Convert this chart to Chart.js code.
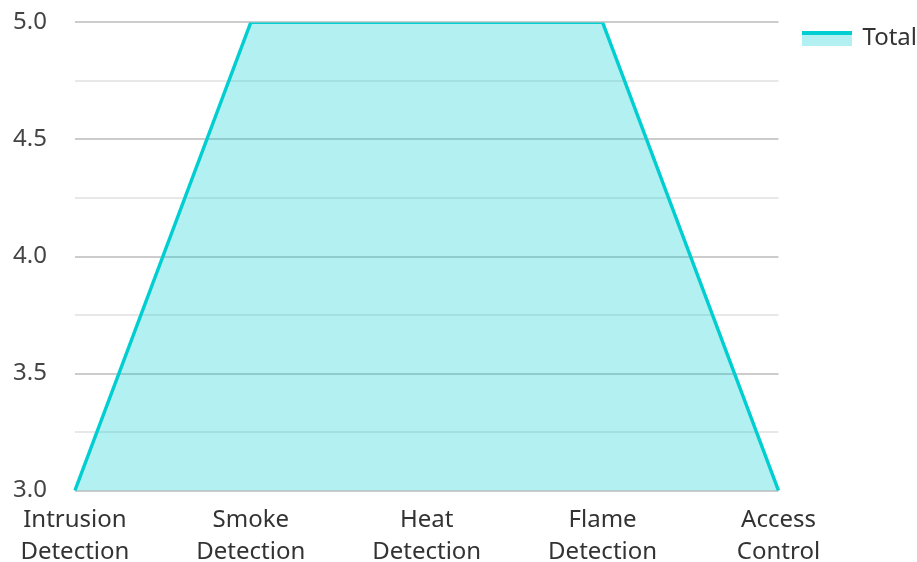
<!DOCTYPE html>
<html>
<head>
<meta charset="utf-8">
<script src="https://cdn.jsdelivr.net/npm/chart.js@4"></script>
<style>
  html, body { margin: 0; padding: 0; background: #fff; }
  #wrap { width: 917px; height: 562px; }
</style>
</head>
<body>
<div id="wrap"><canvas id="myChart" width="917" height="562"></canvas></div>
<script>
// chart data
const categories = [
    ['Intrusion', 'Detection'],
    ['Smoke', 'Detection'],
    ['Heat', 'Detection'],
    ['Flame', 'Detection'],
    ['Access', 'Control']
];
const totalValues = [3, 5, 5, 5, 3];
const seriesName = 'Total';

const lineColor = '#00CED1';
const fillColor = 'rgba(0, 206, 209, 0.3)';

Chart.defaults.font.family = "'Noto Sans', 'Open Sans', sans-serif";
Chart.defaults.font.size = 24;
Chart.defaults.color = '#333';

// legend swatch: thick line on top, fill below
function makeSwatch() {
    const c = document.createElement('canvas');
    c.width = 50;
    c.height = 16;
    const g = c.getContext('2d');
    g.fillStyle = fillColor;
    g.fillRect(0, 1, 50, 15);
    g.fillStyle = lineColor;
    g.fillRect(0, 1, 50, 4);
    return c;
}

const isMajor = (v) => Math.abs(v * 2 - Math.round(v * 2)) < 1e-6;

const ctx = document.getElementById('myChart').getContext('2d');
const myChart = new Chart(ctx, {
    type: 'line',
    data: {
        labels: categories,
        datasets: [{
            label: seriesName,
            data: totalValues,
            borderColor: lineColor,
            backgroundColor: fillColor,
            borderWidth: 3.4,
            pointRadius: 0,
            pointStyle: makeSwatch(),
            fill: true,
            tension: 0
        }]
    },
    options: {
        responsive: false,
        animation: false,
        layout: { padding: { left: 5, right: -10, top: 0, bottom: -12 } },
        plugins: {
            legend: {
                position: 'right',
                align: 'start',
                labels: {
                    usePointStyle: true,
                    pointStyleWidth: 46,
                    boxHeight: 15,
                    padding: 26,
                    color: '#333',
                    font: { size: 24 }
                }
            },
            tooltip: { enabled: false }
        },
        scales: {
            x: {
                offset: false,
                grid: { display: false },
                border: { display: false },
                ticks: {
                    maxRotation: 0,
                    autoSkip: false,
                    padding: 6,
                    color: '#333',
                    font: { size: 24, lineHeight: 1.32 }
                }
            },
            y: {
                min: 3,
                max: 5,
                border: { display: false },
                grid: {
                    drawTicks: true,
                    tickLength: 20,
                    tickColor: 'rgba(0,0,0,0)',
                    lineWidth: 2,
                    color: (c) => {
                        const v = c.tick ? c.tick.value : 0;
                        return isMajor(v) ? '#cccccc' : '#e8e8e8';
                    }
                },
                ticks: {
                    stepSize: 0.25,
                    padding: 8,
                    color: '#444',
                    callback: (v) => isMajor(v) ? v.toFixed(1) : ''
                }
            }
        }
    }
});
</script>
</body>
</html>
